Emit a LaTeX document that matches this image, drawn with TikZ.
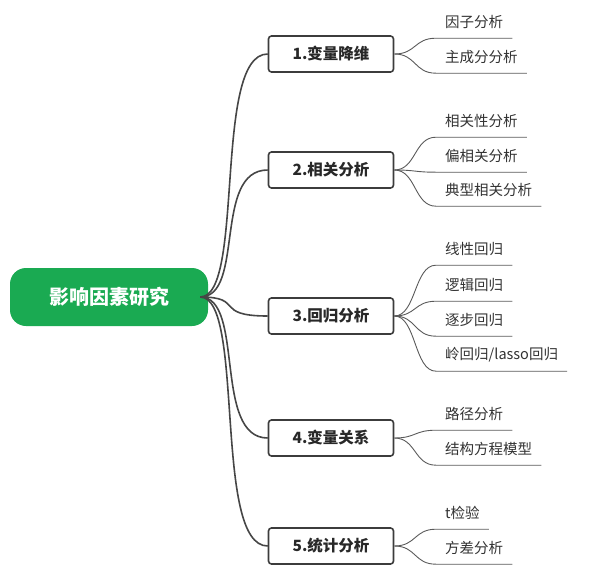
\documentclass[tikz,border=0pt]{standalone}
\usepackage{fontspec}
\setmainfont{Noto Sans CJK SC}
\begin{document}
\begin{tikzpicture}[x=1pt,y=-1pt,
  rootbox/.style={fill={rgb,255:red,26;green,170;blue,82},rounded corners=16pt,minimum width=198pt,minimum height=58pt,text=white,font=\bfseries\fontsize{20}{24}\selectfont},
  branchbox/.style={draw={rgb,255:red,60;green,60;blue,60},line width=1.6pt,rounded corners=3pt,minimum width=125pt,minimum height=36pt,font=\bfseries\fontsize{15.5}{18}\selectfont,text={rgb,255:red,40;green,40;blue,40}},
  leaf/.style={anchor=west,minimum height=32pt,inner xsep=9pt,inner ysep=0pt,font=\fontsize{14.5}{17}\selectfont,text={rgb,255:red,50;green,50;blue,50}},
  bline/.style={draw={rgb,255:red,70;green,70;blue,70},line width=1.6pt},
  lline/.style={draw={rgb,255:red,90;green,90;blue,90},line width=0.9pt}]
\useasboundingbox (0,0) rectangle (600,576);
\node[rootbox] (r) at (109,297) {影响因素研究};
\node[branchbox] (b1) at (331,54) {1.变量降维};
\node[branchbox] (b2) at (331,170) {2.相关分析};
\node[branchbox] (b3) at (331,316) {3.回归分析};
\node[branchbox] (b4) at (331,438) {4.变量关系};
\node[branchbox] (b5) at (331,546) {5.统计分析};
\foreach \b in {b1,b2,b3,b4,b5}
  \draw[bline] ([xshift=-8pt]r.east) .. controls +(45,0) and +(-55,0) .. (\b.west);
\node[leaf] (l11) at (436,22) {因子分析};
\node[leaf] (l12) at (436,57) {主成分分析};
\node[leaf] (l21) at (436,121) {相关性分析};
\node[leaf] (l22) at (436,156) {偏相关分析};
\node[leaf] (l23) at (436,190) {典型相关分析};
\node[leaf] (l31) at (436,249) {线性回归};
\node[leaf] (l32) at (436,285) {逻辑回归};
\node[leaf] (l33) at (436,320) {逐步回归};
\node[leaf] (l34) at (436,355) {岭回归/lasso回归};
\node[leaf] (l41) at (436,414) {路径分析};
\node[leaf] (l42) at (436,449) {结构方程模型};
\node[leaf] (l51) at (436,513) {t检验};
\node[leaf] (l52) at (436,548) {方差分析};
\foreach \b/\l in {b1/l11,b1/l12,b2/l21,b2/l22,b2/l23,b3/l31,b3/l32,b3/l33,b3/l34,b4/l41,b4/l42,b5/l51,b5/l52}
  \draw[lline] (\b.east) .. controls +(22,0) and +(-22,0) .. (\l.south west) -- (\l.south east);
\end{tikzpicture}
\end{document}
